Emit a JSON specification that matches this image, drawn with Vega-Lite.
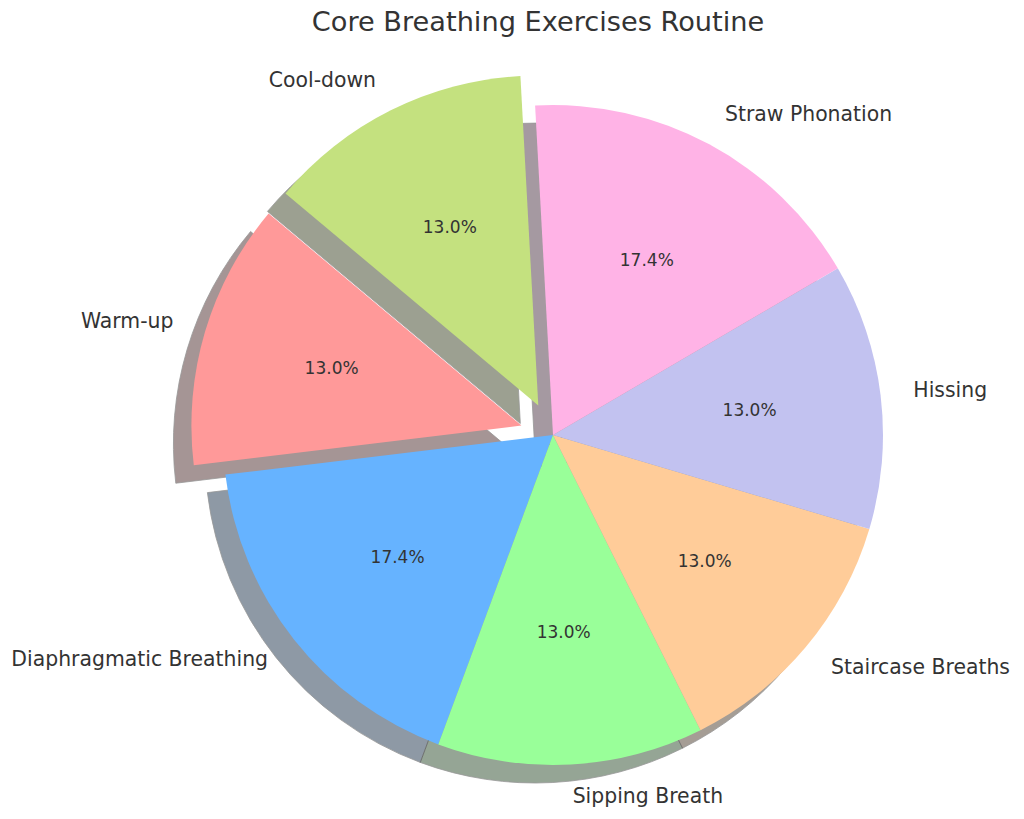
{
  "$schema": "https://vega.github.io/schema/vega-lite/v6.json",
  "width": 660,
  "height": 660,
  "autosize": {"type": "none"},
  "padding": {"left": 223, "top": 105, "right": 141, "bottom": 54},
  "background": "white",
  "title": {
    "text": "Core Breathing Exercises Routine",
    "fontSize": 27.2,
    "fontWeight": "normal",
    "color": "#333333",
    "frame": "group",
    "anchor": "middle",
    "dx": -15,
    "offset": 34
  },
  "data": {
    "values": [
      {"idx": 1, "exercise": "Warm-up", "share": 0.130},
      {"idx": 2, "exercise": "Diaphragmatic Breathing", "share": 0.174},
      {"idx": 3, "exercise": "Sipping Breath", "share": 0.130},
      {"idx": 4, "exercise": "Staircase Breaths", "share": 0.130},
      {"idx": 5, "exercise": "Hissing", "share": 0.130},
      {"idx": 6, "exercise": "Straw Phonation", "share": 0.174},
      {"idx": 7, "exercise": "Cool-down", "share": 0.130}
    ]
  },
  "encoding": {
    "theta": {
      "field": "share",
      "type": "quantitative",
      "stack": true,
      "scale": {"range": [-0.8727, 5.4105]}
    },
    "order": {"field": "idx", "type": "quantitative", "sort": "descending"},
    "detail": {"field": "exercise", "type": "nominal"}
  },
  "layer": [
    {
      "mark": {"type": "arc", "outerRadius": 330, "xOffset": -18, "yOffset": 18, "stroke": "#333333", "strokeWidth": 0.8},
      "encoding": {
        "fill": {
          "field": "exercise",
          "type": "nominal",
          "legend": null,
          "scale": {
            "domain": ["Warm-up", "Diaphragmatic Breathing", "Sipping Breath", "Staircase Breaths", "Hissing", "Straw Phonation", "Cool-down"],
            "range": ["#4d2e2e", "#1f364d", "#2e4d2e", "#4d3d2e", "#3a3a48", "#4d3645", "#3b4426"]
          }
        },
        "opacity": {
          "condition": {"test": "datum.exercise !== 'Warm-up' && datum.exercise !== 'Cool-down'", "value": 0.5},
          "value": 0
        }
      }
    },
    {
      "mark": {"type": "arc", "outerRadius": 330, "xOffset": -49.6, "yOffset": 8.6, "stroke": "#333333", "strokeWidth": 0.8},
      "encoding": {
        "fill": {"field": "exercise", "type": "nominal", "legend": null},
        "opacity": {"condition": {"test": "datum.exercise === 'Warm-up'", "value": 0.5}, "value": 0}
      }
    },
    {
      "mark": {"type": "arc", "outerRadius": 330, "xOffset": -32.7, "yOffset": -11.5, "stroke": "#333333", "strokeWidth": 0.8},
      "encoding": {
        "fill": {"field": "exercise", "type": "nominal", "legend": null},
        "opacity": {"condition": {"test": "datum.exercise === 'Cool-down'", "value": 0.5}, "value": 0}
      }
    },
    {
      "mark": {"type": "arc", "outerRadius": 330},
      "encoding": {
        "color": {
          "field": "exercise",
          "type": "nominal",
          "legend": null,
          "scale": {
            "domain": ["Warm-up", "Diaphragmatic Breathing", "Sipping Breath", "Staircase Breaths", "Hissing", "Straw Phonation", "Cool-down"],
            "range": ["#ff9999", "#66b3ff", "#99ff99", "#ffcc99", "#c2c2f0", "#ffb3e6", "#c4e17f"]
          }
        },
        "opacity": {
          "condition": {"test": "datum.exercise !== 'Warm-up' && datum.exercise !== 'Cool-down'", "value": 1},
          "value": 0
        }
      }
    },
    {
      "mark": {"type": "arc", "outerRadius": 330, "xOffset": -31.6, "yOffset": -9.4},
      "encoding": {
        "color": {"field": "exercise", "type": "nominal", "legend": null},
        "opacity": {"condition": {"test": "datum.exercise === 'Warm-up'", "value": 1}, "value": 0}
      }
    },
    {
      "mark": {"type": "arc", "outerRadius": 330, "xOffset": -14.7, "yOffset": -29.5},
      "encoding": {
        "color": {"field": "exercise", "type": "nominal", "legend": null},
        "opacity": {"condition": {"test": "datum.exercise === 'Cool-down'", "value": 1}, "value": 0}
      }
    },
    {
      "mark": {"type": "text", "radius": 198, "fontSize": 17, "font": "DejaVu Sans", "color": "#333333", "align": "center", "baseline": "middle"},
      "encoding": {
        "text": {"field": "share", "type": "quantitative", "format": ".1%"},
        "opacity": {
          "condition": {"test": "datum.exercise !== 'Warm-up' && datum.exercise !== 'Cool-down'", "value": 1},
          "value": 0
        }
      }
    },
    {
      "mark": {"type": "text", "radius": 198, "fontSize": 17, "font": "DejaVu Sans", "color": "#333333", "align": "center", "baseline": "middle", "xOffset": -31.6, "yOffset": -9.4},
      "encoding": {
        "text": {"field": "share", "type": "quantitative", "format": ".1%"},
        "opacity": {"condition": {"test": "datum.exercise === 'Warm-up'", "value": 1}, "value": 0}
      }
    },
    {
      "mark": {"type": "text", "radius": 198, "fontSize": 17, "font": "DejaVu Sans", "color": "#333333", "align": "center", "baseline": "middle", "xOffset": -14.7, "yOffset": -29.5},
      "encoding": {
        "text": {"field": "share", "type": "quantitative", "format": ".1%"},
        "opacity": {"condition": {"test": "datum.exercise === 'Cool-down'", "value": 1}, "value": 0}
      }
    },
    {
      "mark": {"type": "text", "radius": 363, "fontSize": 20.4, "font": "DejaVu Sans", "color": "#333333", "align": "left", "baseline": "middle"},
      "encoding": {
        "text": {"field": "exercise", "type": "nominal"},
        "opacity": {
          "condition": {"test": "indexof(['Sipping Breath', 'Staircase Breaths', 'Hissing', 'Straw Phonation'], datum.exercise) >= 0", "value": 1},
          "value": 0
        }
      }
    },
    {
      "mark": {"type": "text", "radius": 363, "fontSize": 20.4, "font": "DejaVu Sans", "color": "#333333", "align": "right", "baseline": "middle"},
      "encoding": {
        "text": {"field": "exercise", "type": "nominal"},
        "opacity": {"condition": {"test": "datum.exercise === 'Diaphragmatic Breathing'", "value": 1}, "value": 0}
      }
    },
    {
      "mark": {"type": "text", "radius": 363, "fontSize": 20.4, "font": "DejaVu Sans", "color": "#333333", "align": "right", "baseline": "middle", "xOffset": -31.6, "yOffset": -9.4},
      "encoding": {
        "text": {"field": "exercise", "type": "nominal"},
        "opacity": {"condition": {"test": "datum.exercise === 'Warm-up'", "value": 1}, "value": 0}
      }
    },
    {
      "mark": {"type": "text", "radius": 363, "fontSize": 20.4, "font": "DejaVu Sans", "color": "#333333", "align": "right", "baseline": "middle", "xOffset": -14.7, "yOffset": -29.5},
      "encoding": {
        "text": {"field": "exercise", "type": "nominal"},
        "opacity": {"condition": {"test": "datum.exercise === 'Cool-down'", "value": 1}, "value": 0}
      }
    }
  ],
  "config": {
    "view": {"stroke": null},
    "font": "DejaVu Sans"
  }
}
